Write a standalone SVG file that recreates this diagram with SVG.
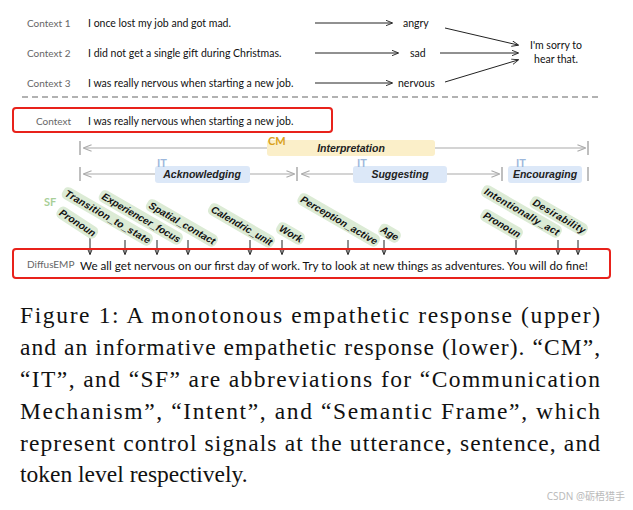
<svg xmlns="http://www.w3.org/2000/svg" width="633" height="510" viewBox="0 0 633 510">
<defs>
<marker id="ah" viewBox="0 0 10 10" refX="9" refY="5" markerWidth="7" markerHeight="7" orient="auto"><path d="M0,1 L10,5 L0,9" fill="none" stroke="#222" stroke-width="1.3"/></marker>
<marker id="ag" viewBox="0 0 10 10" refX="9" refY="5" markerWidth="7" markerHeight="7" orient="auto-start-reverse"><path d="M0,1 L10,5 L0,9" fill="none" stroke="#aaa" stroke-width="1.3"/></marker>
<style>
.s{font-family:"Lato","Liberation Sans",sans-serif;font-size:10.5px;fill:#111}
.c{font-family:"Lato","Liberation Sans",sans-serif;font-size:10px;fill:#666}
.a{stroke:#222;stroke-width:1;marker-end:url(#ah)}
.g{stroke:#aaa;stroke-width:1.2;marker-end:url(#ag)}
.t{stroke:#aaa;stroke-width:1.5}
.b{font-family:"Liberation Sans",sans-serif;font-size:10.5px;font-weight:bold;font-style:italic;fill:#222;text-anchor:middle}
.f{font-family:"Liberation Sans",sans-serif;font-size:10px;font-weight:bold;font-style:italic;fill:#111;text-anchor:end}
.p{fill:#dcebd5}
.cap{font-family:"Liberation Serif",serif;font-size:23.5px;fill:#111}
</style>
</defs>
<rect width="633" height="510" fill="#fff"/>
<g id="contexts">
<text class="c" x="27" y="27">Context 1</text><text class="s" x="88" y="27">I once lost my job and got mad.</text>
<text class="c" x="27" y="57">Context 2</text><text class="s" x="88" y="57">I did not get a single gift during Christmas.</text>
<text class="c" x="27" y="87">Context 3</text><text class="s" x="88" y="87">I was really nervous when starting a new job.</text>
<text class="s" x="403" y="27">angry</text><text class="s" x="410" y="57">sad</text><text class="s" x="398" y="87">nervous</text>
<text class="s" x="556" y="49" text-anchor="middle">I'm sorry to</text><text class="s" x="556" y="63" text-anchor="middle">hear that.</text>
</g>
<g id="connectors">
<line class="a" x1="315" y1="23" x2="392" y2="23"/>
<line class="a" x1="315" y1="53" x2="398" y2="53"/>
<line class="a" x1="315" y1="83" x2="392" y2="83"/>
<line class="a" x1="445" y1="28" x2="518" y2="45"/>
<line class="a" x1="440" y1="53" x2="518" y2="53"/>
<line class="a" x1="445" y1="82" x2="518" y2="60"/>
<line x1="22" y1="97" x2="598" y2="97" stroke="#999" stroke-width="1.5" stroke-dasharray="6,4"/>
<line class="t" x1="80" y1="141" x2="80" y2="155"/><line class="t" x1="588" y1="141" x2="588" y2="155"/>
<line class="g" x1="84" y1="148" x2="585" y2="148" marker-start="url(#ag)"/>
<line class="t" x1="80" y1="167" x2="80" y2="181"/><line class="t" x1="297" y1="167" x2="297" y2="181"/><line class="t" x1="502" y1="167" x2="502" y2="181"/><line class="t" x1="588" y1="167" x2="588" y2="181"/>
<line class="g" x1="84" y1="174" x2="294" y2="174" marker-start="url(#ag)"/>
<line class="g" x1="302" y1="174" x2="499" y2="174" marker-start="url(#ag)"/>
<g stroke="#222" stroke-width="1" marker-end="url(#ah)">
<line x1="90" y1="236" x2="90" y2="254"/><line x1="125" y1="240" x2="125" y2="254"/><line x1="157" y1="240" x2="157" y2="254"/><line x1="188" y1="240" x2="188" y2="254"/><line x1="250" y1="240" x2="250" y2="254"/><line x1="282" y1="240" x2="282" y2="254"/><line x1="348" y1="240" x2="348" y2="254"/><line x1="384" y1="240" x2="384" y2="254"/><line x1="516" y1="240" x2="516" y2="254"/><line x1="558" y1="240" x2="558" y2="254"/><line x1="578" y1="240" x2="578" y2="254"/>
</g>
</g>
<g id="context-box"><rect x="13" y="108" width="319" height="24" rx="3" fill="none" stroke="#e8221b" stroke-width="2"/><text class="c" x="36" y="125">Context</text><text class="s" x="88" y="125">I was really nervous when starting a new job.</text></g>
<g id="cm"><rect x="267" y="140" width="168" height="16" rx="3" fill="#fbefc9"/><text class="b" x="351" y="152">Interpretation</text><text x="268" y="145" font-family="Lato,'Liberation Sans',sans-serif" font-size="11" font-weight="bold" fill="#d9a21a">CM</text></g>
<g id="it">
<rect x="155" y="166" width="95" height="17" rx="3" fill="#dce8f8"/><text class="b" x="202" y="178">Acknowledging</text><text x="157" y="167" font-family="Lato,'Liberation Sans',sans-serif" font-size="11" font-weight="bold" fill="#9db8dc">IT</text>
<rect x="353" y="166" width="94" height="17" rx="3" fill="#dce8f8"/><text class="b" x="400" y="178">Suggesting</text><text x="357" y="167" font-family="Lato,'Liberation Sans',sans-serif" font-size="11" font-weight="bold" fill="#9db8dc">IT</text>
<rect x="508" y="166" width="74" height="17" rx="3" fill="#dce8f8"/><text class="b" x="545" y="178">Encouraging</text><text x="516" y="167" font-family="Lato,'Liberation Sans',sans-serif" font-size="11" font-weight="bold" fill="#9db8dc">IT</text>
</g>
<g id="sf">
<text x="44" y="206" font-family="Lato,'Liberation Sans',sans-serif" font-size="11" font-weight="bold" fill="#a8cf98">SF</text>
<g transform="translate(93,237) rotate(33)"><rect class="p" x="-44" y="-10" width="46" height="13" rx="5"/><text class="f" x="0" y="0">Pronoun</text></g>
<g transform="translate(148,244) rotate(30)"><rect class="p" x="-100" y="-10" width="102" height="13" rx="5"/><text class="f" x="0" y="0" textLength="97">Transition_to_state</text></g>
<g transform="translate(178,243) rotate(30)"><rect class="p" x="-92" y="-10" width="94" height="13" rx="5"/><text class="f" x="0" y="0" textLength="89">Experiencer_focus</text></g>
<g transform="translate(213,245) rotate(30)"><rect class="p" x="-78" y="-10" width="80" height="13" rx="5"/><text class="f" x="0" y="0" textLength="75">Spatial_contact</text></g>
<g transform="translate(270,246) rotate(30)"><rect class="p" x="-72" y="-10" width="74" height="13" rx="5"/><text class="f" x="0" y="0" textLength="69">Calendric_unit</text></g>
<g transform="translate(300,243) rotate(30)"><rect class="p" x="-28" y="-10" width="30" height="13" rx="5"/><text class="f" x="0" y="0">Work</text></g>
<g transform="translate(375,245) rotate(30)"><rect class="p" x="-90" y="-10" width="92" height="13" rx="5"/><text class="f" x="0" y="0" textLength="87">Perception_active</text></g>
<g transform="translate(396,241) rotate(30)"><rect class="p" x="-21" y="-10" width="23" height="13" rx="5"/><text class="f" x="0" y="0">Age</text></g>
<g transform="translate(518,238) rotate(30)"><rect class="p" x="-44" y="-10" width="46" height="13" rx="5"/><text class="f" x="0" y="0">Pronoun</text></g>
<g transform="translate(557,236) rotate(30)"><rect class="p" x="-88" y="-10" width="90" height="13" rx="5"/><text class="f" x="0" y="0" textLength="85">Intentionally_act</text></g>
<g transform="translate(583,234) rotate(30)"><rect class="p" x="-62" y="-10" width="64" height="13" rx="5"/><text class="f" x="0" y="0" textLength="59">Desirability</text></g>
</g>
<g id="response"><rect x="13" y="249" width="597" height="29" rx="3" fill="none" stroke="#e8221b" stroke-width="2"/><text class="c" x="27" y="268">DiffusEMP</text><text class="s" x="80" y="270" textLength="508" lengthAdjust="spacingAndGlyphs">We all get nervous on our first day of work. Try to look at new things as adventures. You will do fine!</text></g>
<g id="caption">
<text class="cap" x="20" y="323" textLength="580">Figure 1: A monotonous empathetic response (upper)</text>
<text class="cap" x="20" y="355" textLength="580">and an informative empathetic response (lower). “CM”,</text>
<text class="cap" x="20" y="387" textLength="580">“IT”, and “SF” are abbreviations for “Communication</text>
<text class="cap" x="20" y="419" textLength="580">Mechanism”, “Intent”, and “Semantic Frame”, which</text>
<text class="cap" x="20" y="451" textLength="580">represent control signals at the utterance, sentence, and</text>
<text class="cap" x="20" y="482">token level respectively.</text>
<text x="625" y="500" text-anchor="end" font-family="'Noto Sans','Noto Sans CJK SC',sans-serif" font-size="10" fill="#bbb">CSDN @砺梧猎手</text>
</g>
</svg>
